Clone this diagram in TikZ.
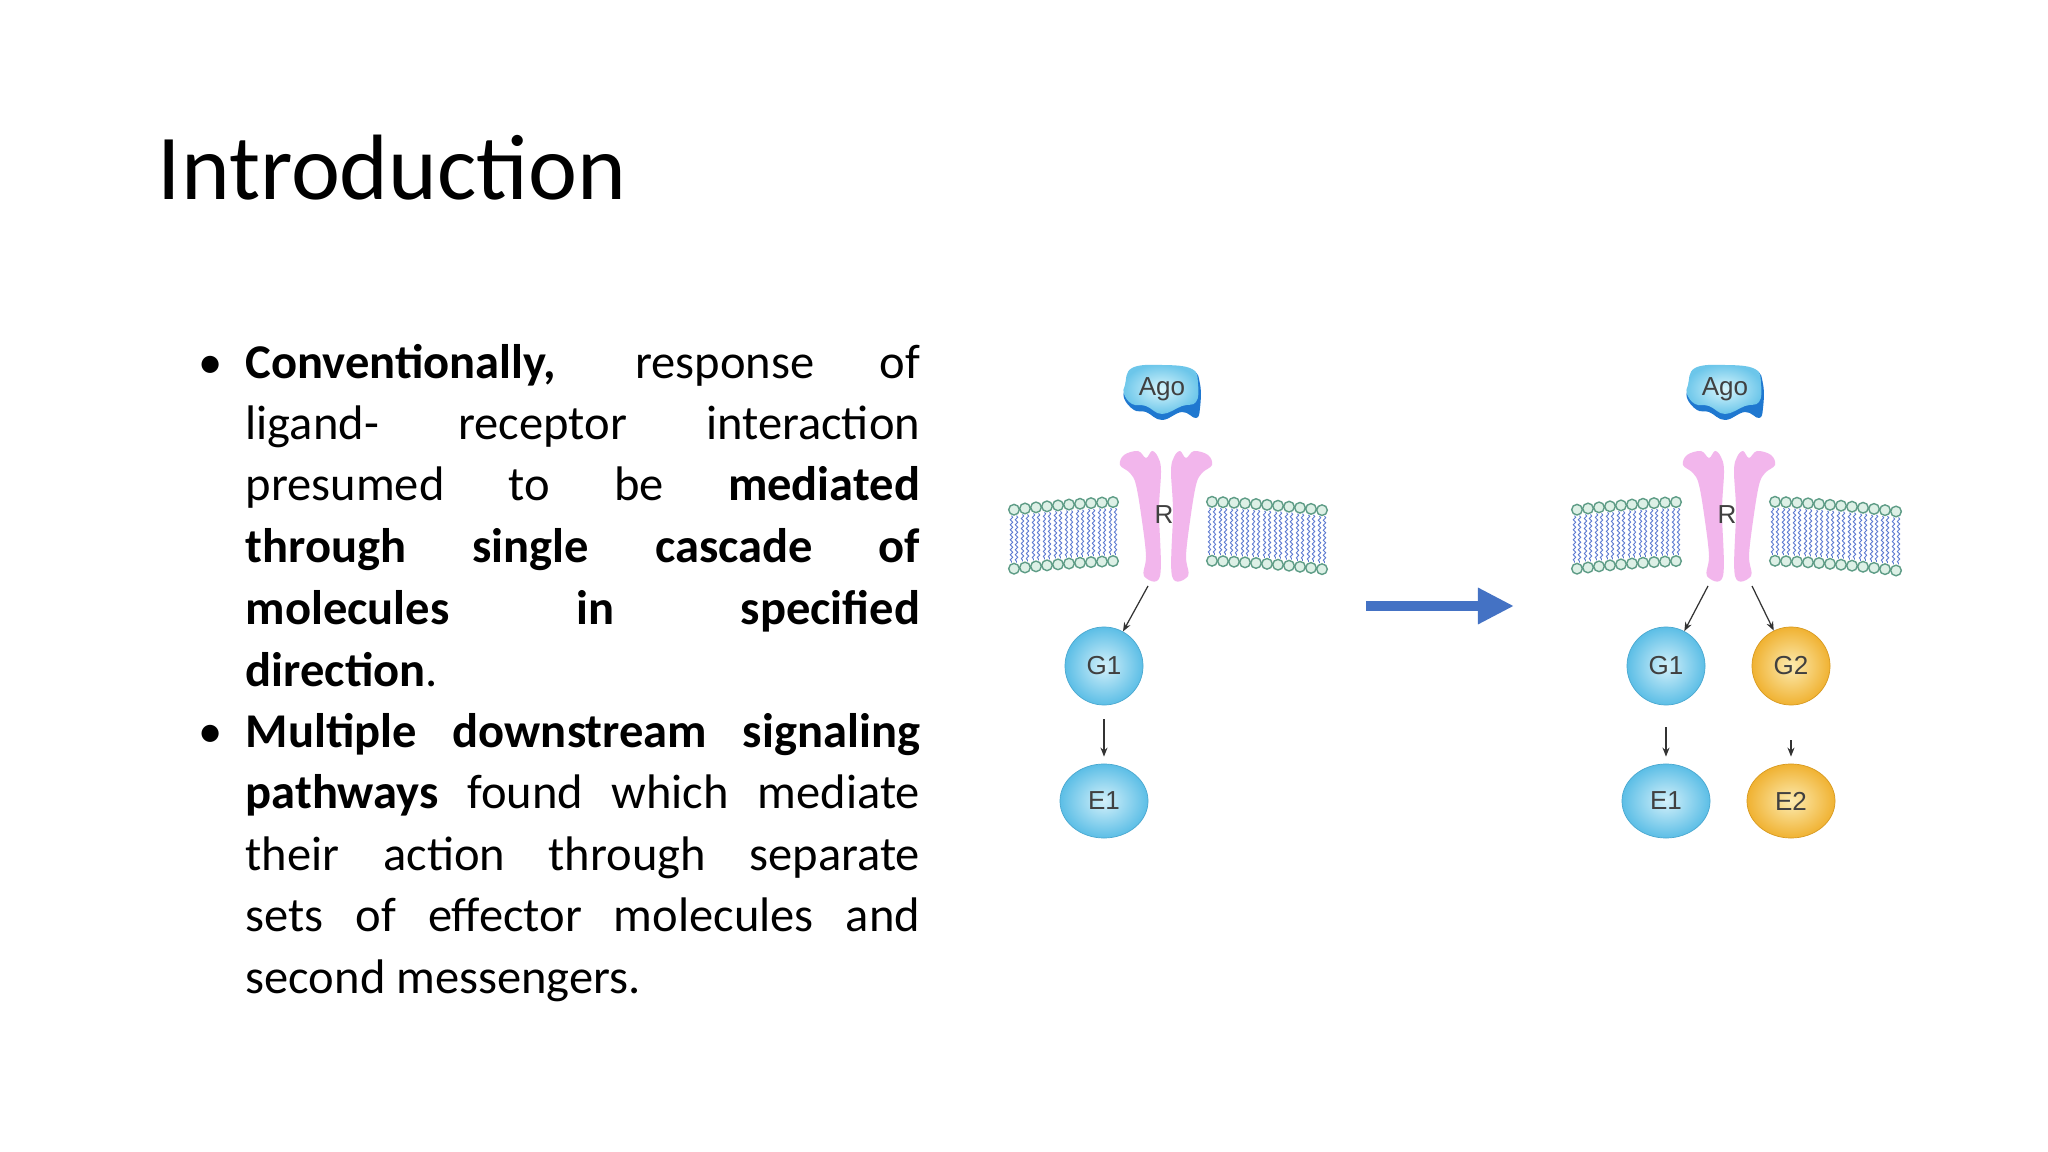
\documentclass[tikz,border=0pt]{standalone}
\usepackage{fontspec}
\setmainfont{Carlito}
\newfontfamily\lab{Liberation Sans}
\usetikzlibrary{arrows.meta,decorations.pathmorphing,shapes.geometric}
\definecolor{headf}{HTML}{DDF0E6}
\definecolor{heado}{HTML}{5E9C86}
\definecolor{tail}{HTML}{5A78D0}
\definecolor{pinkr}{HTML}{F2B6EC}
\definecolor{arrowblue}{HTML}{4472C4}
\definecolor{bb}{HTML}{5CBEE6}
\definecolor{bbin}{HTML}{D2F0FA}
\definecolor{bbd}{HTML}{4AA8D0}
\definecolor{oo}{HTML}{F0B232}
\definecolor{ooin}{HTML}{FCEBB0}
\definecolor{ood}{HTML}{D89A20}
\definecolor{agoo}{HTML}{1F78D0}
\definecolor{agoi}{HTML}{D8F6FC}
\definecolor{agom}{HTML}{6CC6EA}
\tikzset{
  line/.style={anchor=base west,inner sep=0pt,font=\fontsize{13.8}{16}\selectfont},
  lbl/.style={font=\lab\fontsize{7.4}{8}\selectfont,text=black!75},
  ball/.style={circle,minimum size=0.78cm,inner sep=0pt,shading=radial,inner color=bbin,outer color=bb,draw=bbd,very thin,lbl},
  eff/.style={ellipse,minimum width=0.88cm,minimum height=0.74cm,inner sep=0pt,shading=radial,inner color=bbin,outer color=bb,draw=bbd,very thin,lbl},
  oball/.style={ball,inner color=ooin,outer color=oo,draw=ood},
  oeff/.style={eff,inner color=ooin,outer color=oo,draw=ood},
  sig/.style={-{Stealth[length=0.09cm,width=0.07cm]},black!80,line width=0.35pt},
  receptor/.pic={
    \foreach \s in {1,-1}{
      \fill[pinkr,xscale=\s] plot[smooth cycle,tension=0.6] coordinates {(-6,125) (-7,60) (-5,20) (-8,6) (-14,0) (-20,7) (-28,0) (-42,4) (-46,14) (-36,22) (-30,34) (-24,70) (-20,105) (-22,125)};
    }
  },
  ago/.pic={
    \fill[agoo] plot[smooth cycle,tension=0.7] coordinates {(-36,-4) (-30,-20) (0,-24) (30,-20) (38,-6) (38,18) (34,28) (20,22) (0,30) (-16,22) (-28,20) (-38,8)};
    \shade[inner color=agoi,outer color=agom,shading=radial] plot[smooth cycle,tension=0.7] coordinates {(-37,-5) (-30,-22) (0,-25) (30,-21) (36,-6) (34,12) (20,16) (0,24) (-16,16) (-30,14) (-38,4)};
  }
}
\newcommand{\membrane}[3]{% x0, count, xc (curve center)
  \foreach \i in {0,...,#2}{
    \pgfmathsetmacro{\x}{#1+11*\i}
    \pgfmathsetmacro{\dy}{((\x-#3)/163)^2*10}
    \pgfmathtruncatemacro{\skp}{abs(\x-#3)<46 ? 1 : 0}
    \ifnum\skp=0
      \draw[tail,line width=0.25pt,decorate,decoration={snake,segment length=0.05cm,amplitude=0.012cm}] (\x-2.5,507+\dy) -- (\x-2.5,554+\dy);
      \draw[tail,line width=0.25pt,decorate,decoration={snake,segment length=0.05cm,amplitude=0.012cm}] (\x+2.5,507+\dy) -- (\x+2.5,554+\dy);
      \draw[heado,fill=headf,line width=0.4pt] (\x,501+\dy) circle (5.3);
      \draw[heado,fill=headf,line width=0.4pt] (\x,560+\dy) circle (5.3);
    \fi
  }
}
\begin{document}
\begin{tikzpicture}[x=0.01cm,y=-0.01cm]
\useasboundingbox[fill=white] (0,0) rectangle (2048,1152);
% title
\node[anchor=base west,inner sep=0pt,font=\fontsize{26.4}{30}\selectfont] (title) at (157,200) {Introduction};
% bullets
\node[anchor=base west,inner sep=0pt,font=\fontsize{13.8}{16}\selectfont] (b1) at (198,379) {•};
\node[anchor=base west,inner sep=0pt,font=\fontsize{13.8}{16}\selectfont] (b2) at (198,747) {•};
\node[line] (l1) at (245,379) {\makebox[6.74cm][s]{\textbf{Conventionally,} response of}};
\node[line] (l2) at (245,440) {\makebox[6.74cm][s]{ligand- receptor interaction}};
\node[line] (l3) at (245,501) {\makebox[6.74cm][s]{presumed to be \textbf{mediated}}};
\node[line] (l4) at (245,563) {\makebox[6.74cm][s]{\textbf{through single cascade of}}};
\node[line] (l5) at (245,624) {\makebox[6.74cm][s]{\textbf{molecules in specified}}};
\node[line] (l6) at (245,686) {\textbf{direction}.};
\node[line] (l7) at (245,747) {\makebox[6.74cm][s]{\textbf{Multiple downstream signaling}}};
\node[line] (l8) at (245,808) {\makebox[6.74cm][s]{\textbf{pathways} found which mediate}};
\node[line] (l9) at (245,870) {\makebox[6.74cm][s]{their action through separate}};
\node[line] (l10) at (245,931) {\makebox[6.74cm][s]{sets of effector molecules and}};
\node[line] (l11) at (245,993) {second messengers.};
% left diagram
\membrane{1014}{28}{1166}
\pic at (1166,451) {receptor};
\node[lbl] (R1) at (1164,515) {R};
\pic at (1162,390) {ago};
\node[lbl] (A1) at (1162,389) {Ago};
\coordinate (r1) at (1148,586);
\node[ball] (G1) at (1104,666) {G1};
\node[eff] (E1) at (1104,801) {E1};
\draw[sig] (r1) -- (G1);
\draw[sig,shorten >=2pt,shorten <=4pt] (G1) -- (E1);
% big arrow
\coordinate (ba) at (1366,606);
\coordinate (bt) at (1514,606);
\draw[arrowblue,line width=0.09cm,-{Triangle[length=0.36cm,width=0.34cm]}] (ba) -- (bt);
% right diagram
\membrane{1577}{29}{1729}
\pic at (1729,451) {receptor};
\node[lbl] (R2) at (1727,515) {R};
\pic at (1725,390) {ago};
\node[lbl] (A2) at (1725,389) {Ago};
\coordinate (r2) at (1708,586);
\coordinate (r3) at (1752,586);
\node[ball] (G1b) at (1666,666) {G1};
\node[oball] (G2) at (1791,666) {G2};
\node[eff] (E1b) at (1666,801) {E1};
\node[oeff] (E2) at (1791,801) {E2};
\coordinate (c1) at (1666,727);
\coordinate (c2) at (1791,740);
\draw[sig] (r2) -- (G1b);
\draw[sig] (r3) -- (G2);
\draw[sig,shorten >=2pt] (c1) -- (E1b);
\draw[sig,shorten >=2pt] (c2) -- (E2);
\end{tikzpicture}
\end{document}
